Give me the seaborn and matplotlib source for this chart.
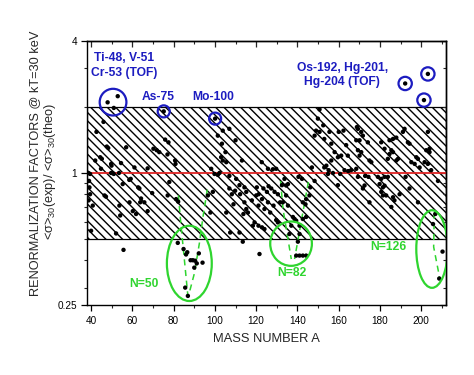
import numpy as np
import pandas as pd
import matplotlib
matplotlib.use("Agg")
import matplotlib.pyplot as plt
import seaborn as sns
from matplotlib.patches import Ellipse
from matplotlib.ticker import FixedLocator, FixedFormatter, NullFormatter

# ---------------- data ----------------
light_mass = [38.7, 39.5, 39.0, 39.2, 39.5, 38.8, 40.8, 40.0, 42.0, 42.6, 44.4, 45.2, 44.8, 46.0,
              47.6, 48.3, 49.7, 49.9, 49.7, 51.0, 50.4, 46.5, 47.2, 53.7, 52.1, 54.5, 53.5, 55.3,
              54.1, 55.7, 57.0, 58.5, 59.2, 58.6, 60.2, 61.0, 61.8, 62.8, 63.4, 63.8, 64.2, 65.8,
              67.4, 67.4, 69.6, 70.2, 71.8, 73.0, 75.9, 77.5, 77.0, 80.7, 80.9, 77.1, 77.9, 81.2,
              82.2]
light_factor = [1.00, 0.99, 0.92, 0.86, 0.80, 0.75, 0.71, 0.545, 1.14, 1.54, 1.18, 1.16, 1.045, 1.71,
                1.32, 1.30, 1.10, 1.08, 1.00, 0.99, 1.00, 0.79, 0.78, 0.71, 0.53, 1.11, 1.00, 0.89,
                0.64, 0.446, 1.31, 0.93, 0.94, 0.735, 0.67, 1.06, 0.65, 0.86, 0.85, 0.735, 0.765, 0.735,
                0.67, 1.05, 0.81, 1.29, 1.27, 1.245, 1.42, 1.38, 1.215, 1.14, 1.10, 0.79, 0.91, 0.76,
                0.74]

n50_mass = [82.0, 84.8, 86.0, 86.6, 88.2, 89.3, 90.4, 91.2, 92.2, 94.0, 90.0, 85.6, 86.9]
n50_factor = [0.48, 0.45, 0.425, 0.435, 0.40, 0.40, 0.398, 0.387, 0.43, 0.39, 0.37, 0.30, 0.275]

mid_mass = [96.6, 97.8, 98.2, 99.8, 99.0, 103.8, 107.0, 101.4, 110.0, 105.1, 103.0, 103.8, 105.5,
            101.4, 102.2, 107.0, 110.3, 111.9, 107.0, 114.3, 115.2, 114.3, 115.2, 116.0, 120.0,
            121.2, 124.0, 119.2, 118.4, 124.0, 111.9, 105.5, 113.5, 121.6, 108.2, 109.8, 112.2,
            113.8, 123.5, 125.2, 122.8, 121.1, 126.8, 128.4, 121.1, 122.8, 107.4, 109.0, 117.9,
            113.1, 122.7, 120.3, 126.0, 103.4]
mid_factor = [0.79, 0.66, 1.045, 0.99, 0.82, 1.56, 1.59, 1.48, 1.41, 1.245, 1.18, 1.14, 1.12,
              0.98, 1.00, 0.97, 0.94, 0.88, 0.85, 0.86, 0.82, 0.735, 0.685, 0.66, 0.79,
              0.80, 0.685, 0.595, 0.575, 0.555, 0.535, 0.66, 0.486, 0.427, 0.80, 0.83, 0.80,
              0.65, 0.85, 0.82, 0.76, 0.71, 0.66, 0.71, 0.575, 0.565, 0.535, 0.72, 0.75,
              1.14, 1.12, 0.86, 0.87, 1.36]

n82_mass = [125.7, 128.1, 129.7, 127.3, 128.9, 130.5, 131.6, 132.9, 125.7, 129.7, 130.5, 134.5,
            135.4, 133.7, 134.5, 135.4, 137.8, 138.6, 139.4, 137.0, 141.0, 142.6, 144.2, 142.6,
            144.2, 143.9, 145.8, 148.3, 141.0, 136.1, 140.2, 139.4, 141.0, 142.6, 144.2, 140.5,
            142.2, 146.2, 147.0, 132.5]
n82_factor = [1.045, 1.04, 1.045, 0.85, 0.82, 0.80, 0.735, 0.735, 0.735, 0.61, 0.595, 0.877,
              0.89, 0.94, 0.79, 0.71, 0.63, 0.617, 0.606, 0.575, 0.575, 0.617, 0.63, 0.735,
              0.76, 0.72, 0.79, 0.92, 0.527, 0.527, 0.486, 0.42, 0.42, 0.42, 0.42, 0.96,
              0.94, 0.86, 1.06, 0.88]

rare_mass = [150.7, 149.9, 152.5, 149.0, 148.3, 150.7, 153.0, 155.5, 162.3, 160.0, 156.4, 158.0,
             159.6, 161.2, 156.4, 154.0, 153.0, 163.6, 164.4, 162.8, 164.6, 166.0, 168.5, 154.8,
             157.2, 159.6, 168.5, 168.8, 155.1, 160.7]
rare_factor = [1.95, 1.77, 1.65, 1.56, 1.48, 1.54, 1.43, 1.54, 1.56, 1.54, 1.36, 1.245,
               1.18, 1.20, 1.14, 1.08, 1.06, 1.34, 1.20, 1.03, 1.02, 1.03, 1.045, 0.99,
               1.00, 0.88, 1.41, 1.62, 1.03, 0.99]

heavy_mass = [169.3, 170.9, 171.7, 174.1, 170.1, 169.3, 170.9, 170.1, 174.9, 175.8, 180.6, 184.6,
              186.3, 187.9, 191.1, 191.9, 193.5, 194.3, 185.5, 186.3, 184.6, 187.9, 188.7, 182.2,
              183.8, 197.6, 198.4, 195.2, 196.8, 203.2, 202.4, 204.0, 204.0, 201.6, 203.2, 199.2,
              204.8, 192.4, 208.1, 179.0, 180.6, 182.2, 183.8, 179.8, 181.4, 182.2, 180.6, 181.4,
              183.0, 186.3, 187.0, 185.5, 174.9, 171.7, 172.5, 169.3, 189.5, 194.3, 198.4, 172.8,
              174.4, 206.8, 205.7, 210.3, 208.7]
heavy_factor = [1.59, 1.54, 1.48, 1.38, 1.41, 1.27, 1.245, 1.20, 1.14, 1.12, 1.38, 1.41,
                1.43, 1.45, 1.54, 1.59, 1.38, 1.36, 1.27, 1.245, 1.22, 1.14, 1.16, 1.29,
                1.16, 1.18, 1.16, 1.12, 1.10, 1.54, 1.27, 1.29, 1.245, 1.12, 1.10, 1.06,
                1.03, 0.96, 0.92, 0.96, 0.94, 0.96, 0.96, 0.89, 0.86, 0.875, 0.82, 0.79,
                0.79, 0.775, 0.75, 0.70, 0.735, 0.85, 0.877, 0.96, 0.80, 0.85, 0.735, 0.97,
                0.96, 0.65, 0.585, 0.438, 0.33]

# TOF measurements (circled)
tof_mass = [48.0, 52.9, 51.0, 75.2, 100.1, 192.2, 203.2, 201.3]
tof_factor = [2.10, 2.24, 1.98, 1.91, 1.77, 2.56, 2.83, 2.15]
tof_group = ["Ti-V-Cr", "Ti-V-Cr", "Ti-V-Cr", "As-75", "Mo-100", "Os-192", "Hg-201", "Hg-204"]

# isotone trends (green dashed)
n50_left_mass = [82.3, 83.5, 84.8, 86.9]
n50_left_factor = [0.79, 0.585, 0.44, 0.275]
n50_right_mass = [96.3, 94.1, 92.5, 90.1, 87.4]
n50_right_factor = [0.84, 0.62, 0.48, 0.35, 0.28]
n82_left_mass = [131.8, 133.0, 137.0]
n82_left_factor = [0.92, 0.685, 0.405]
n82_right_mass = [145.3, 142.6, 138.6]
n82_right_factor = [0.91, 0.66, 0.405]
n126_mass = [206.3, 206.0, 208.9]
n126_factor = [0.66, 0.46, 0.333]

# shell closure ellipses: centre (A, factor)
shell_labels = ["N=50", "N=82", "N=126"]
shell_mass = [87.6, 136.9, 205.2]
shell_factor = [0.387, 0.476, 0.45]

# ---------------- styling ----------------
sns.set_style("ticks")
plt.rcParams["font.family"] = ["Liberation Sans", "DejaVu Sans"]
plt.rcParams["mathtext.fontset"] = "custom"
plt.rcParams["mathtext.rm"] = "Liberation Sans"
plt.rcParams["mathtext.it"] = "Liberation Sans:italic"
plt.rcParams["hatch.linewidth"] = 1.0
plt.rcParams["axes.edgecolor"] = "black"
plt.rcParams["axes.linewidth"] = 1.0

BLUE = "#1c1cc0"
GREEN = "#2fd52f"
RED = "#e02424"

fig = plt.figure(figsize=(4.74, 3.75), dpi=100)
ax = fig.add_axes([0.1835, 0.1867, 0.7575, 0.704])
ax.set_yscale("log")
ax.set_xlim(38, 212)
ax.set_ylim(0.25, 4)

# hatched band 0.5 .. 2
ax.axhspan(0.5, 2.0, facecolor="white", edgecolor="black", hatch="\\\\\\\\", lw=0.9, zorder=0)
ax.axhline(1.0, color=RED, lw=1.3, zorder=1)

data = pd.DataFrame({
    "A": light_mass + n50_mass + mid_mass + n82_mass + rare_mass + heavy_mass,
    "f": light_factor + n50_factor + mid_factor + n82_factor + rare_factor + heavy_factor,
})
sns.scatterplot(data=data, x="A", y="f", color="black", s=10, edgecolor="none",
                legend=False, ax=ax, zorder=3)
tof = pd.DataFrame({"A": tof_mass, "f": tof_factor, "g": tof_group})
sns.scatterplot(data=tof, x="A", y="f", color="black", s=10, edgecolor="none",
                legend=False, ax=ax, zorder=3)

# blue circles around TOF points (group circle for Ti/V/Cr)
circ = tof.assign(lf=np.log(tof["f"])).groupby("g", sort=False).agg(A=("A", "mean"), lf=("lf", "mean"))
circ_sizes = {"Ti-V-Cr": 370, "As-75": 75, "Mo-100": 75, "Os-192": 92, "Hg-201": 92, "Hg-204": 92}
ax.scatter(circ["A"], np.exp(circ["lf"]), s=[circ_sizes[g] for g in circ.index],
           facecolors="none", edgecolors=BLUE, linewidths=1.6, zorder=4)

# isotone trend lines
for xs, ys in [(n50_left_mass, n50_left_factor), (n50_right_mass, n50_right_factor),
               (n82_left_mass, n82_left_factor), (n82_right_mass, n82_right_factor),
               (n126_mass, n126_factor)]:
    ax.plot(xs, ys, color=GREEN, lw=1.1, ls=(0, (4, 3)), zorder=2)

# ellipses in axes-fraction units
ell_w = [0.125, 0.116, 0.0875]
ell_h = [0.285, 0.168, 0.294]
for cx, cy, w, h in zip(shell_mass, shell_factor, ell_w, ell_h):
    c = ax.transAxes.inverted().transform(ax.transData.transform((cx, cy)))
    ax.add_patch(Ellipse(c, w, h, transform=ax.transAxes, fill=False,
                         edgecolor=GREEN, lw=1.6, zorder=5))

# annotations
tk = dict(color=BLUE, fontsize=8.7, fontweight="bold", ha="center", va="center", zorder=6)
ax.text(55.8, 3.09, "Ti-48, V-51\nCr-53 (TOF)", linespacing=1.3, **tk)
ax.text(72.6, 2.22, "As-75", **tk)
ax.text(99.3, 2.22, "Mo-100", **tk)
ax.text(161.7, 2.80, "Os-192, Hg-201,\nHg-204 (TOF)", linespacing=1.3, **tk)
gk = dict(color=GREEN, fontsize=8.7, fontweight="bold", ha="center", va="center", zorder=6)
for lab, x, y in zip(shell_labels, [65.4, 137.1, 184.0], [0.311, 0.349, 0.461]):
    ax.text(x, y, lab, **gk)

# ticks
ax.xaxis.set_major_locator(FixedLocator([40, 60, 80, 100, 120, 140, 160, 180, 200]))
ax.xaxis.set_minor_locator(FixedLocator(list(range(40, 212, 10))))
ax.yaxis.set_major_locator(FixedLocator([0.25, 1, 4]))
ax.yaxis.set_major_formatter(FixedFormatter(["0.25", "1", "4"]))
ax.yaxis.set_minor_locator(FixedLocator([0.3, 0.4, 0.5, 0.6, 0.7, 0.8, 0.9, 2, 3]))
ax.yaxis.set_minor_formatter(NullFormatter())
ax.tick_params(which="major", direction="out", length=4, width=0.9, labelsize=7.2, pad=3,
               colors="black")
ax.tick_params(which="minor", direction="out", length=2.5, width=0.8)
ax.tick_params(axis="x", which="major", pad=4)

secx = ax.secondary_xaxis("top")
secx.xaxis.set_major_locator(FixedLocator([40, 60, 80, 100, 120, 140, 160, 180, 200]))
secx.xaxis.set_minor_locator(FixedLocator(list(range(40, 212, 10))))
secx.tick_params(which="major", direction="in", length=4, width=0.9, labeltop=False)
secx.tick_params(which="minor", direction="in", length=2.5, width=0.8)
secy = ax.secondary_yaxis("right")
secy.yaxis.set_major_locator(FixedLocator([0.25, 1, 4]))
secy.yaxis.set_minor_locator(FixedLocator([0.3, 0.4, 0.5, 0.6, 0.7, 0.8, 0.9, 2, 3]))
secy.yaxis.set_minor_formatter(NullFormatter())
secy.tick_params(which="major", direction="in", length=4, width=0.9, labelright=False)
secy.tick_params(which="minor", direction="in", length=2.5, width=0.8)

ax.set_xlabel("")
ax.set_ylabel("")
fig.text(266.7 / 474, 1 - 339 / 375, "MASS NUMBER A", fontsize=9.3, ha="center", va="center")
fig.text(35 / 474, 1 - 163.5 / 375, "RENORMALIZATION FACTORS @ kT=30 keV", fontsize=9.2,
         rotation=90, ha="center", va="center")
fig.text(50 / 474, 1 - 171 / 375, "<σ>$_{30}$(exp)/ <σ>$_{30}$(theo)", fontsize=9.2,
         rotation=90, ha="center", va="center")

fig.savefig("out.png", dpi=100)
